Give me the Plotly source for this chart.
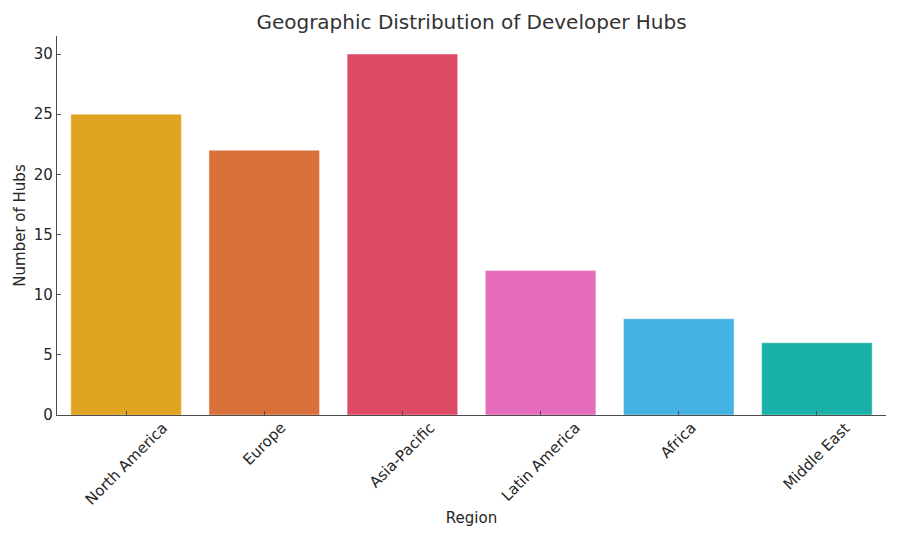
import plotly.graph_objects as go

regions = ["North America", "Europe", "Asia-Pacific", "Latin America", "Africa", "Middle East"]
hubs = [25, 22, 30, 12, 8, 6]
bar_colors = ["#E0A420", "#DB713A", "#DF4B66", "#E46CBA", "#44B2E3", "#1AB2A8"]

fig = go.Figure(go.Bar(
    x=regions, y=hubs,
    marker=dict(color=bar_colors, line=dict(color="rgba(255,255,255,0.4)", width=1)),
))

# matplotlib-style centred, rotated category labels
for r in regions:
    fig.add_annotation(x=r, y=0, xref="x", yref="y", text=r, showarrow=False,
                       textangle=-45, xanchor="center", yanchor="top", yshift=-1,
                       font=dict(size=15, color="#262626"))

# page has an 8px body margin, so the figure is a bit smaller than the window
fig.update_layout(
    width=892, height=532,
    margin=dict(l=49, r=14, t=28, b=125),
    plot_bgcolor="white", paper_bgcolor="white",
    font=dict(family="DejaVu Sans", size=15, color="#262626"),
    title=dict(text="Geographic Distribution of Developer Hubs", xref="paper", x=0.5,
               xanchor="center", y=1 - 14 / 532, yanchor="middle",
               font=dict(size=20, color="#333333")),
    bargap=0.2,
    showlegend=False,
)
fig.update_xaxes(
    title=dict(text="Region", font=dict(size=15), standoff=97),
    range=[-0.5, 5.5], showticklabels=False, automargin=False,
    showline=True, linecolor="#4d4d4d", linewidth=1.2,
    ticks="inside", ticklen=4, tickcolor="#4d4d4d", showgrid=False,
)
fig.update_yaxes(
    title=dict(text="Number of Hubs", font=dict(size=15), standoff=4),
    range=[0, 31.5], dtick=5, automargin=False,
    showline=True, linecolor="#4d4d4d", linewidth=1.2,
    ticks="inside", ticklen=4, tickcolor="#4d4d4d", showgrid=False, zeroline=False,
)

fig.write_html("out.html")
